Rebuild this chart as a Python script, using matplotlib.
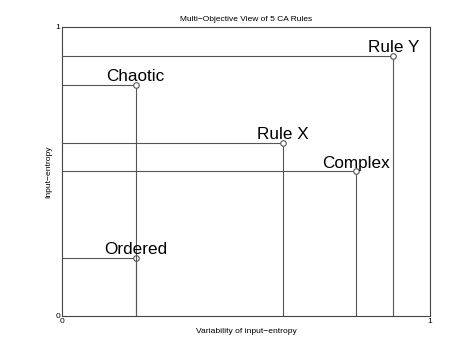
import matplotlib
matplotlib.use("Agg")
import matplotlib.pyplot as plt

names = ["Ordered", "Chaotic", "Rule X", "Complex", "Rule Y"]
variability = [0.2, 0.2, 0.6, 0.8, 0.9]
entropy = [0.2, 0.8, 0.6, 0.5, 0.9]

plt.rcParams['font.family'] = ['Liberation Sans', 'DejaVu Sans']

fig = plt.figure(figsize=(4.74, 3.55), dpi=100)
ax = fig.add_axes([0.1308, 0.1099, 0.7764, 0.8141])
lc = '#555555'
for n, x, y in zip(names, variability, entropy):
    ax.plot([0, x], [y, y], color=lc, lw=0.8)
    ax.plot([x, x], [0, y], color=lc, lw=0.8)
    ax.plot([x], [y], marker='o', ms=4, mfc='white', mec=lc, mew=0.8, ls='none')
    ax.text(x, y + 0.003, n, ha='center', va='bottom', fontsize=12.3, color='black')

ax.set_xlim(0, 1)
ax.set_ylim(0, 1)
ax.set_xticks([0, 1])
ax.set_yticks([0, 1])
ax.tick_params(labelsize=6, length=2, width=0.6, pad=1.5, direction='in')
for s in ax.spines.values():
    s.set_color('#444444')
    s.set_linewidth(0.8)
ax.set_title("Multi\u2212Objective View of 5 CA Rules", fontsize=6, pad=4)
ax.set_xlabel("Variability of input\u2212entropy", fontsize=6.1, labelpad=2)
ax.set_ylabel("Input\u2212entropy", fontsize=6.1, labelpad=2)
fig.savefig("out.png", dpi=100)
